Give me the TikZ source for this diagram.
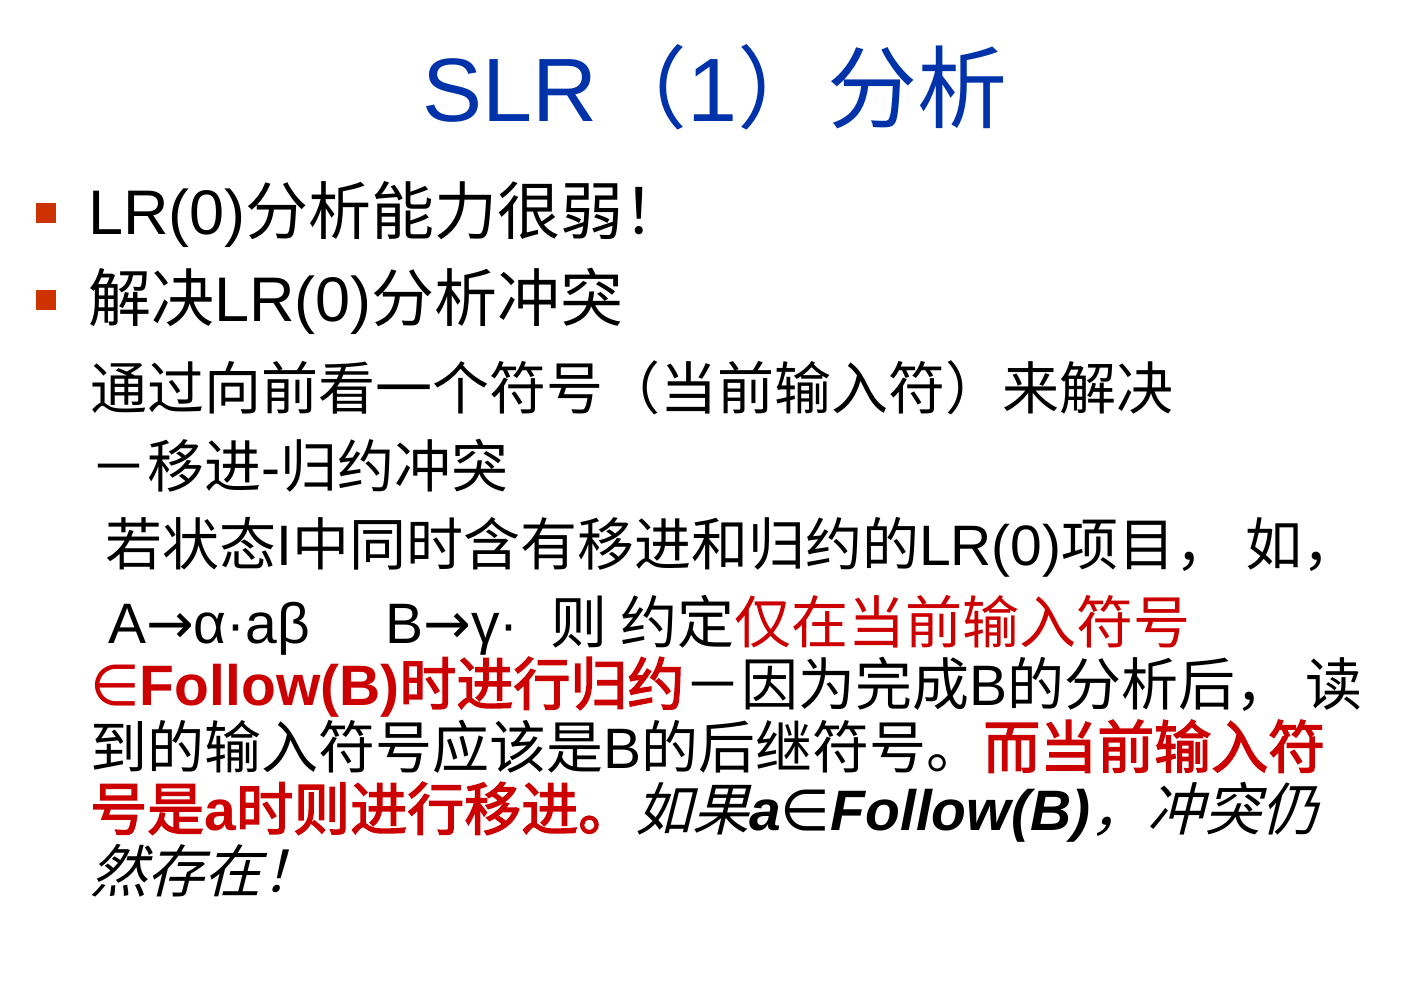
\documentclass[tikz,border=0pt]{standalone}
\usepackage{fontspec}
\setmainfont{Liberation Sans}
\newfontfamily\dv{DejaVu Sans}
\newfontfamily\dvi{DejaVu Sans Oblique}
\newfontfamily\zh{Noto Sans CJK SC}
\newfontfamily\zhb[FakeBold=2.5]{Noto Sans CJK SC}
\newfontfamily\zhi[FakeSlant=0.25]{Noto Sans CJK SC}
\definecolor{tblue}{RGB}{0,51,170}
\definecolor{bred}{RGB}{204,0,0}
\definecolor{bul}{RGB}{204,51,0}
\begin{document}
\begin{tikzpicture}[x=1pt,y=-1pt,
  line/.style={anchor=base west,inner sep=0pt,font=\fontsize{57}{60}\selectfont},
  big/.style={anchor=base west,inner sep=0pt,font=\fontsize{63}{66}\selectfont},
  bullet/.style={fill=bul,minimum size=20pt,inner sep=0pt}]
\useasboundingbox (0,0) rectangle (1417,981);
\node[anchor=base,inner sep=0pt,text=tblue,font=\fontsize{90}{96}\selectfont] (title) at (715,122) {SLR{\zh（}1{\zh）分析}};
\node[bullet] (b1) at (46,213) {};
\node[bullet] (b2) at (46,300) {};
\node[big] (l1) at (88,235) {LR(0){\zh 分析能力很弱！}};
\node[big] (l2) at (88,322) {{\zh 解决}LR(0){\zh 分析冲突}};
\node[line] (l3) at (90,410) {\zh 通过向前看一个符号（当前输入符）来解决};
\node[line] (l4) at (90,488) {{\zh －移进}-{\zh 归约冲突}};
\node[line] (l5) at (105,565) {{\zh 若状态}I{\zh 中同时含有移进和归约的}LR(0){\zh 项目，\ 如，}};
\node[line] (l6) at (108,643) {A{\dv →}α·aβ\hspace{75pt}B{\dv →}γ·\ \ {\zh 则\ 约定}{\color{bred}\zh 仅在当前输入符号}};
\node[line] (l7) at (90,705) {{\color{bred}{\dv ∈}\textbf{Follow(B)}{\zhb 时进行归约}}{\zh －因为完成}B{\zh 的分析后，\ 读}};
\node[line] (l8) at (90,768) {{\zh 到的输入符号应该是}B{\zh 的后继符号。}{\color{bred}\zhb 而当前输入符}};
\node[line] (l9) at (90,830) {{\color{bred}{\zhb 号是}\textbf{a}{\zhb 时则进行移进。}}{\zhi 如果}\textbf{\textit{a}}{\dvi ∈}\textbf{\textit{Follow(B)}}{\zhi ，冲突仍}};
\node[line] (l10) at (90,892) {\zhi 然存在！};
\end{tikzpicture}
\end{document}
